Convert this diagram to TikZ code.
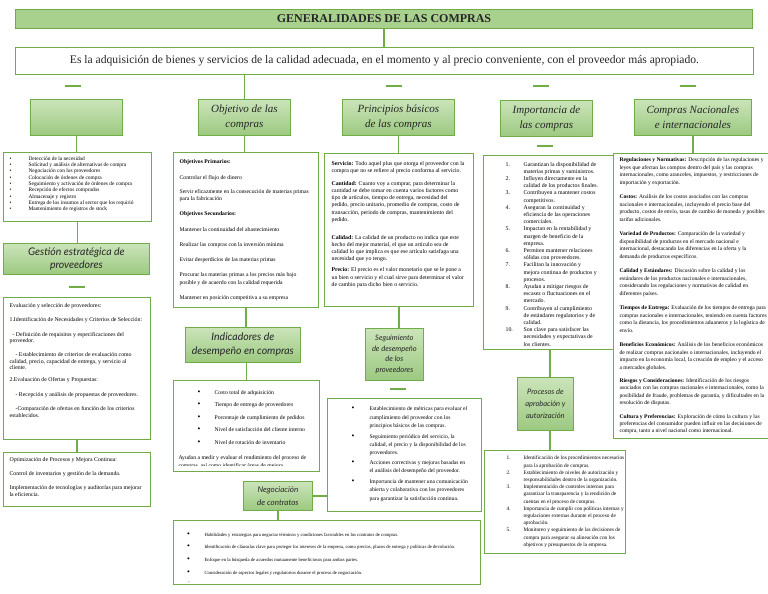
\documentclass[tikz,border=0pt]{standalone}
\usepackage{fontspec}
\setmainfont{Liberation Serif}
\newfontfamily\headsans{Lato}
\definecolor{leaf}{HTML}{70AD47}
\definecolor{hdrtop}{HTML}{CBE4BA}
\definecolor{hdrbot}{HTML}{9CC980}
\definecolor{titlefill}{HTML}{A9D18E}
\definecolor{ink}{HTML}{262626}
\newcommand{\panelbody}[5]{\parbox[t][#2][t]{#1}{\vspace*{#3}\raggedright\leftskip=#4\relax#5}}
\newcommand{\mk}[2]{\makebox[#1][l]{#2}}
\newcommand{\bigbul}{{\fontsize{8}{8}\selectfont\textbullet}}

\begin{document}
\begin{tikzpicture}[x=1pt,y=-1pt,
  banner/.style={draw=leaf,line width=1pt,inner sep=0pt,anchor=north west,text=ink},
  hdr/.style={draw=leaf,line width=0.8pt,top color=hdrtop,bottom color=hdrbot,
    inner sep=0pt,anchor=north west,align=center,text=ink},
  panel/.style={draw=leaf,line width=1.2pt,fill=white,inner sep=0pt,anchor=north west,text=black},
  link/.style={draw=leaf,line width=1.5pt},
  stub/.style={draw=leaf,line width=1.5pt}]
  \useasboundingbox (0,0) rectangle (768,594);
  % ---------- top ----------
  \node[banner,fill=titlefill,minimum width=737pt,minimum height=19pt,
    font=\fontsize{12}{13}\selectfont\bfseries] (title) at (15,9) {GENERALIDADES DE LAS COMPRAS};
  \node[banner,fill=white,minimum width=738pt,minimum height=27pt,
    font=\fontsize{11.6}{12}\selectfont] (def) at (15,47)
    {Es la adquisición de bienes y servicios de la calidad adecuada, en el momento y al precio conveniente, con el proveedor más apropiado.};
  \draw[link] (title.south) -- (title.south |- def.north);
  % ---------- headers ----------
  \node[hdr,minimum width=92pt,minimum height=36pt] (hEmpty) at (30,99) {};
  \node[hdr,minimum width=92pt,minimum height=36pt,font=\fontsize{11}{14.5}\selectfont\itshape] (hObj) at (198,99) {Objetivo de las\\compras};
  \node[hdr,minimum width=112pt,minimum height=36pt,font=\fontsize{11}{14.5}\selectfont\itshape] (hPrin) at (342,99) {Principios básicos\\de las compras};
  \node[hdr,minimum width=92pt,minimum height=36pt,font=\fontsize{11}{14.5}\selectfont\itshape] (hImp) at (500,100) {Importancia de\\las compras};
  \node[hdr,minimum width=117pt,minimum height=36pt,font=\fontsize{11}{14.5}\selectfont\itshape] (hComp) at (634,99) {Compras Nacionales\\e internacionales};
  \draw[link] (def.south -| hObj.north) -- (hObj.north);
  \draw[stub] (65,86) -- (81,86);
  \draw[stub] (386,86) -- (402,86);
  \draw[stub] (533,86) -- (549,86);
  \draw[stub] (680,86) -- (696,86);
  \draw[stub] (537,146) -- (553,146);
  % ---------- left column ----------
  \node[panel] (lst) at (3,152) {\panelbody{148pt}{69pt}{4pt}{0pt}{\fontsize{5.4}{6.3}\selectfont
    \mk{25pt}{\hspace{6pt}\textbullet}Detección de la necesidad\\
    \mk{25pt}{\hspace{6pt}\textbullet}Solicitud y análisis de alternativas de compra\\
    \mk{25pt}{\hspace{6pt}\textbullet}Negociación con los proveedores\\
    \mk{25pt}{\hspace{6pt}\textbullet}Colocación de órdenes de compra\\
    \mk{25pt}{\hspace{6pt}\textbullet}Seguimiento y activación de órdenes de compra\\
    \mk{25pt}{\hspace{6pt}\textbullet}Recepción de efectos comprados\\
    \mk{25pt}{\hspace{6pt}\textbullet}Almacenaje y registro\\
    \mk{25pt}{\hspace{6pt}\textbullet}Entrega de los insumos al sector que los requirió\\
    \mk{25pt}{\hspace{6pt}\textbullet}Mantenimiento de registros de stock}};
  \draw[link] (hEmpty.south) -- (hEmpty.south |- lst.north);
  \node[hdr,minimum width=146pt,minimum height=31pt,font=\headsans\itshape\fontsize{10.5}{12.5}\selectfont] (hGest) at (3,243) {Gestión estratégica de\\proveedores};
  \draw[link] (lst.south) -- (lst.south |- hGest.north);
  \draw[stub] (69,287) -- (85,287);
  \node[panel] (eval) at (3,297) {\panelbody{147pt}{142pt}{5.5pt}{6pt}{\fontsize{5.8}{6.2}\selectfont
    Evaluación y selección de proveedores:\\[8pt]
    1.Identificación de Necesidades y Criterios de Selección:\\[9pt]
    \hspace*{3pt}- Definición de requisitos y especificaciones del\\
    proveedor.\\[8pt]
    \hspace*{6pt}- Establecimiento de criterios de evaluación como\\
    calidad, precio, capacidad de entrega, y servicio al\\
    cliente.\\[6pt]
    2.Evaluación de Ofertas y Propuestas:\\[8.5pt]
    \hspace*{6pt}- Recepción y análisis de propuestas de proveedores.\\[8.5pt]
    \hspace*{6pt}-Comparación de ofertas en función de los criterios\\
    establecidos.}};
  \node[panel] (optim) at (3,452) {\panelbody{147pt}{54pt}{4.5pt}{6pt}{\fontsize{5.8}{7}\selectfont
    Optimización de Procesos y Mejora Continua:\\[7pt]
    Control de inventarios y gestión de la demanda.\\[7pt]
    Implementación de tecnologías y auditorías para mejorar\\
    la eficiencia.}};
  \draw[link] (eval.south) -- (eval.south |- optim.north);
  % ---------- objetivos ----------
  \node[panel] (obj) at (173,152) {\panelbody{145pt}{155pt}{6.5pt}{6pt}{\fontsize{5.7}{7.5}\selectfont
    \textbf{Objetivos Primarios:}\\[8.5pt]
    Controlar el flujo de dinero\\[6.5pt]
    Servir eficazmente en la consecución de materias primas\\
    para la fabricación\\[7.5pt]
    \textbf{Objetivos Secundarios:}\\[8.5pt]
    Mantener la continuidad del abastecimiento\\[7.5pt]
    Realizar las compras con la inversión mínima\\[7.5pt]
    Evitar desperdicios de las materias primas\\[7.5pt]
    Procurar las materias primas a los precios más bajo\\
    posible y de acuerdo con la calidad requerida\\[7.5pt]
    Mantener en posición competitiva a su empresa}};
  \draw[link] (hObj.south) -- (hObj.south |- obj.north);
  \node[hdr,minimum width=115pt,minimum height=35pt,font=\headsans\itshape\fontsize{10.5}{14}\selectfont] (hInd) at (185,327) {Indicadores de\\desempeño en compras};
  \draw[link] (obj.south) -- (obj.south |- hInd.north);
  \node[panel] (ind) at (173,380) {\panelbody{146pt}{91pt}{9.5pt}{5pt}{\fontsize{5.7}{8}\selectfont
    \mk{36pt}{\hspace{19pt}\bigbul}Costo total de adquisición\\[4.5pt]
    \mk{36pt}{\hspace{19pt}\bigbul}Tiempo de entrega de proveedores\\[4.5pt]
    \mk{36pt}{\hspace{19pt}\bigbul}Porcentaje de cumplimiento de pedidos\\[4.5pt]
    \mk{36pt}{\hspace{19pt}\bigbul}Nivel de satisfacción del cliente interno\\[4.5pt]
    \mk{36pt}{\hspace{19pt}\bigbul}Nivel de rotación de inventario\\[7pt]
    Ayudan a medir y evaluar el rendimiento del proceso de\\
    compras, así como identificar áreas de mejora.}};
  \fill[white] (174,465.5) rectangle (318,470.2);
  \draw[link] (ind.north |- hInd.south) -- (ind.north);
  % ---------- principios ----------
  \node[panel] (prin) at (324,153) {\panelbody{149pt}{153pt}{7.5pt}{7pt}{\fontsize{5.8}{7.2}\selectfont
    \textbf{Servicio:} Todo aquel plus que otorga el proveedor con la\\
    compra que no se refiere al precio conforma al servicio.\\[5.8pt]
    \textbf{Cantidad:} Cuanto voy a comprar, para determinar la\\
    cantidad se debe tomar en cuenta varios factores como\\
    tipo de artículos, tiempo de entrega, necesidad del\\
    pedido, precio unitario, promedio de compras, costo de\\
    transacción, periodo de compras, mantenimiento del\\
    pedido.\\[10.8pt]
    \textbf{Calidad:} La calidad de un producto no indica que este\\
    hecho del mejor material, el que un artículo sea de\\
    calidad lo que implica es que ese artículo satisfaga una\\
    necesidad que yo tengo.\\[3.8pt]
    \textbf{Precio:} El precio es el valor monetario que se le pone a\\
    un bien o servicio y el cual sirve para determinar el valor\\
    de cambio para dicho bien o servicio.}};
  \draw[link] (hPrin.south) -- (hPrin.south |- prin.north);
  \node[hdr,minimum width=58pt,minimum height=52pt,font=\headsans\itshape\fontsize{7.5}{10.8}\selectfont] (hSeg) at (365,328) {Seguimiento\\de desempeño\\de los\\proveedores};
  \draw[link] (prin.south) -- (prin.south |- hSeg.north);
  \draw[stub] (390,389) -- (406,389);
  \node[panel] (seg) at (327,398) {\panelbody{154pt}{113pt}{8.5pt}{24pt}{\fontsize{5.6}{8.2}\selectfont
    \mk{18pt}{\bigbul}Establecimiento de métricas para evaluar el\\
    \mk{18pt}{}cumplimiento del proveedor con los\\
    \mk{18pt}{}principios básicos de las compras.\\[2.6pt]
    \mk{18pt}{\bigbul}Seguimiento periódico del servicio, la\\
    \mk{18pt}{}calidad, el precio y la disponibilidad de los\\
    \mk{18pt}{}proveedores.\\[2pt]
    \mk{18pt}{\bigbul}Acciones correctivas y mejoras basadas en\\
    \mk{18pt}{}el análisis del desempeño del proveedor.\\[2.6pt]
    \mk{18pt}{\bigbul}Importancia de mantener una comunicación\\
    \mk{18pt}{}abierta y colaborativa con los proveedores\\
    \mk{18pt}{}para garantizar la satisfacción continua.}};
  \node[hdr,minimum width=69pt,minimum height=29pt,font=\headsans\itshape\fontsize{8}{13}\selectfont] (hNeg) at (243,481) {Negociación\\de contratos};
  \draw[link] (hNeg.east) -- (hNeg.east -| seg.west);
  \node[panel] (neg) at (173,520) {\panelbody{307pt}{64pt}{12pt}{13.5pt}{\fontsize{4.7}{12.7}\selectfont
    \mk{17.5pt}{\bigbul}Habilidades y estrategias para negociar términos y condiciones favorables en los contratos de compras.\\
    \mk{17.5pt}{\bigbul}Identificación de cláusulas clave para proteger los intereses de la empresa, como precios, plazos de entrega y políticas de devolución.\\
    \mk{17.5pt}{\bigbul}Enfoque en la búsqueda de acuerdos mutuamente beneficiosos para ambas partes.\\
    \mk{17.5pt}{\bigbul}Consideración de aspectos legales y regulatorios durante el proceso de negociación.\\[-3.7pt]
    \mk{17.5pt}{\hspace{1pt}-}}};
  \draw[link] (hNeg.south) -- (hNeg.south |- neg.north);
  % ---------- importancia ----------
  \node[panel] (imp) at (483,155) {\panelbody{133pt}{194pt}{6.5pt}{22pt}{\fontsize{5.8}{7.2}\selectfont
    \mk{18pt}{1.}Garantizan la disponibilidad de\\
    \mk{18pt}{}materias primas y suministros.\\
    \mk{18pt}{2.}Influyen directamente en la\\
    \mk{18pt}{}calidad de los productos finales.\\
    \mk{18pt}{3.}Contribuyen a mantener costos\\
    \mk{18pt}{}competitivos.\\
    \mk{18pt}{4.}Aseguran la continuidad y\\
    \mk{18pt}{}eficiencia de las operaciones\\
    \mk{18pt}{}comerciales.\\
    \mk{18pt}{5.}Impactan en la rentabilidad y\\
    \mk{18pt}{}margen de beneficio de la\\
    \mk{18pt}{}empresa.\\
    \mk{18pt}{6.}Permiten mantener relaciones\\
    \mk{18pt}{}sólidas con proveedores.\\
    \mk{18pt}{7.}Facilitan la innovación y\\
    \mk{18pt}{}mejora continua de productos y\\
    \mk{18pt}{}procesos.\\
    \mk{18pt}{8.}Ayudan a mitigar riesgos de\\
    \mk{18pt}{}escasez o fluctuaciones en el\\
    \mk{18pt}{}mercado.\\
    \mk{18pt}{9.}Contribuyen al cumplimiento\\
    \mk{18pt}{}de estándares regulatorios y de\\
    \mk{18pt}{}calidad.\\
    \mk{18pt}{10.}Son clave para satisfacer las\\
    \mk{18pt}{}necesidades y expectativas de\\
    \mk{18pt}{}los clientes.}};
  \node[hdr,minimum width=56pt,minimum height=53pt,font=\headsans\itshape\fontsize{7.5}{12}\selectfont] (hProc) at (517,377) {Procesos de\\aprobación y\\autorización};
  \draw[link] (imp.south) -- (imp.south |- hProc.north);
  \node[panel] (proc) at (484,450) {\panelbody{141pt}{103pt}{5.5pt}{22pt}{\fontsize{5.3}{7.2}\selectfont
    \mk{17pt}{1.}Identificación de los procedimientos necesarios\\
    \mk{17pt}{}para la aprobación de compras.\\
    \mk{17pt}{2.}Establecimiento de niveles de autorización y\\
    \mk{17pt}{}responsabilidades dentro de la organización.\\
    \mk{17pt}{3.}Implementación de controles internos para\\
    \mk{17pt}{}garantizar la transparencia y la rendición de\\
    \mk{17pt}{}cuentas en el proceso de compras.\\
    \mk{17pt}{4.}Importancia de cumplir con políticas internas y\\
    \mk{17pt}{}regulaciones externas durante el proceso de\\
    \mk{17pt}{}aprobación.\\
    \mk{17pt}{5.}Monitoreo y seguimiento de las decisiones de\\
    \mk{17pt}{}compra para asegurar su alineación con los\\
    \mk{17pt}{}objetivos y presupuestos de la empresa.}};
  \draw[link] (imp.south |- hProc.south) -- (imp.south |- proc.north);
  % ---------- compras nacionales ----------
  \node[panel] (comp) at (613,153) {\panelbody{162pt}{285pt}{4.5pt}{6pt}{\fontsize{5.6}{7.4}\selectfont
    \textbf{Regulaciones y Normativas:} Descripción de las regulaciones y\\
    leyes que afectan las compras dentro del país y las compras\\
    internacionales, como aranceles, impuestos, y restricciones de\\
    importación y exportación.\\[7.4pt]
    \textbf{Costos:} Análisis de los costos asociados con las compras\\
    nacionales e internacionales, incluyendo el precio base del\\
    producto, costos de envío, tasas de cambio de moneda y posibles\\
    tarifas adicionales.\\[7.4pt]
    \textbf{Variedad de Productos:} Comparación de la variedad y\\
    disponibilidad de productos en el mercado nacional e\\
    internacional, destacando las diferencias en la oferta y la\\
    demanda de productos específicos.\\[7.4pt]
    \textbf{Calidad y Estándares:} Discusión sobre la calidad y los\\
    estándares de los productos nacionales e internacionales,\\
    considerando las regulaciones y normativas de calidad en\\
    diferentes países.\\[7.4pt]
    \textbf{Tiempos de Entrega:} Evaluación de los tiempos de entrega para\\
    compras nacionales e internacionales, teniendo en cuenta factores\\
    como la distancia, los procedimientos aduaneros y la logística de\\
    envío.\\[7.4pt]
    \textbf{Beneficios Económicos:} Análisis de los beneficios económicos\\
    de realizar compras nacionales o internacionales, incluyendo el\\
    impacto en la economía local, la creación de empleo y el acceso\\
    a mercados globales.\\[6pt]
    \textbf{Riesgos y Consideraciones:} Identificación de los riesgos\\
    asociados con las compras nacionales e internacionales, como la\\
    posibilidad de fraude, problemas de garantía, y dificultades en la\\
    resolución de disputas.\\[6pt]
    \textbf{Cultura y Preferencias:} Exploración de cómo la cultura y las\\
    preferencias del consumidor pueden influir en las decisiones de\\
    compra, tanto a nivel nacional como internacional.}};
  \draw[link] (hComp.south) -- (hComp.south |- comp.north);
\end{tikzpicture}
\end{document}
